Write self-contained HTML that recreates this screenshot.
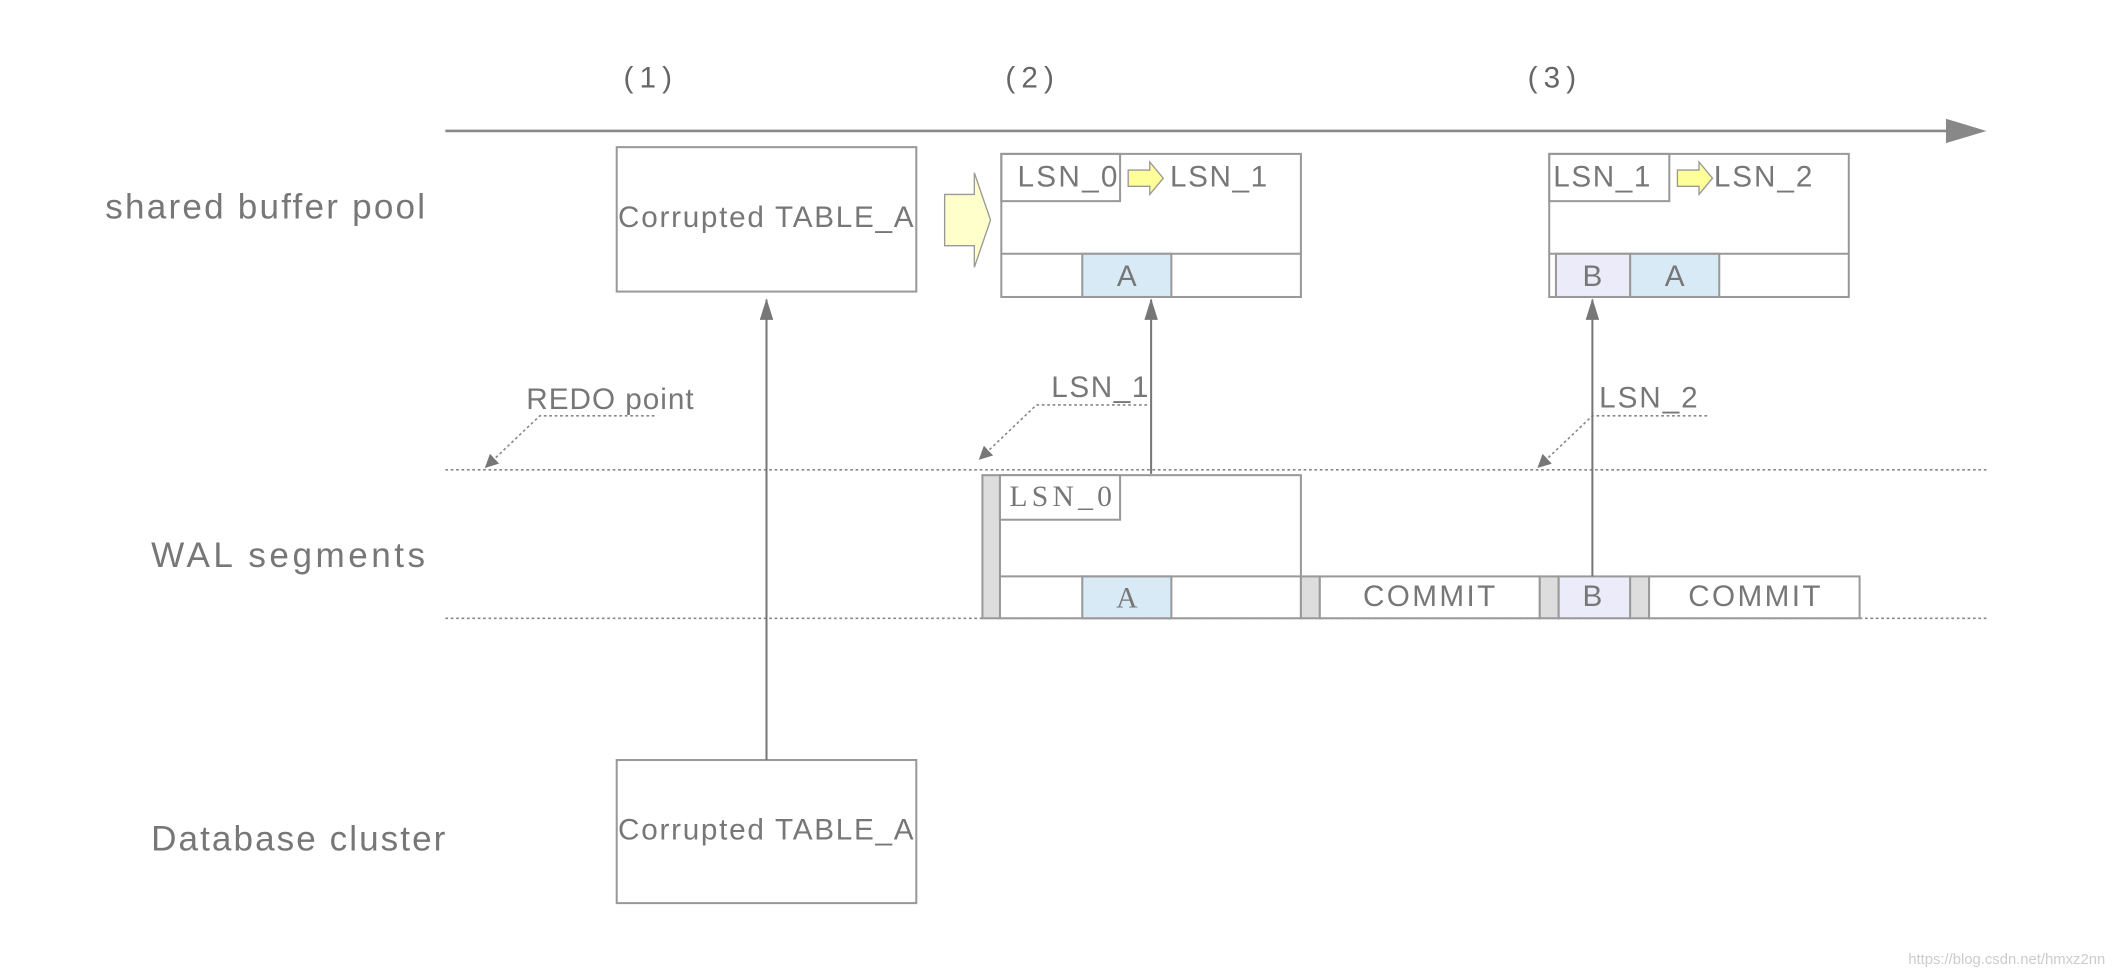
<!DOCTYPE html>
<html><head><meta charset="utf-8"><style>html,body{margin:0;padding:0;background:#fff}svg{display:block}</style></head>
<body>
<svg width="2116" height="976" viewBox="0 0 1568 723" preserveAspectRatio="none" xmlns="http://www.w3.org/2000/svg" font-family="'Liberation Sans', sans-serif" fill="#777">
<defs>
<marker id="ah" markerWidth="16" markerHeight="12" refX="15" refY="5" orient="auto" markerUnits="userSpaceOnUse"><path d="M0,0 L16,5 L0,10 z" fill="#777"/></marker>
<marker id="da" markerWidth="10" markerHeight="10" refX="9" refY="5" orient="auto" markerUnits="userSpaceOnUse"><path d="M0,0 L10,5 L0,10 z" fill="#777"/></marker>
</defs>
<g font-size="22" fill="#666">
<text x="462" y="65" textLength="36" lengthAdjust="spacing">(1)</text><text x="745" y="65" textLength="36" lengthAdjust="spacing">(2)</text><text x="1132" y="65" textLength="36" lengthAdjust="spacing">(3)</text>
</g>
<line x1="330" y1="97" x2="1445" y2="97" stroke="#888" stroke-width="2"/>
<path d="M1442,88 L1472,97 L1442,106 z" fill="#888"/>
<g font-size="26" fill="#777">
<text x="78" y="162" textLength="237" lengthAdjust="spacing">shared buffer pool</text>
<text x="112" y="420" textLength="203" lengthAdjust="spacing">WAL segments</text>
<text x="112" y="630" textLength="218" lengthAdjust="spacing">Database cluster</text>
</g>
<g stroke="#999" stroke-width="1.5" fill="none">
<rect x="457" y="109" width="222" height="107"/>
<rect x="457" y="563" width="222" height="106"/>
</g>
<text x="458" y="168" font-size="22" textLength="219" lengthAdjust="spacing" fill="#777">Corrupted TABLE_A</text>
<text x="458" y="622" font-size="22" textLength="219" lengthAdjust="spacing" fill="#777">Corrupted TABLE_A</text>
<path d="M700,144 L722,144 L722,128 L734,163 L722,198 L722,182 L700,182 z" fill="#ffffcc" stroke="#999"/>
<!-- box 2 -->
<rect x="742" y="114" width="222" height="106" fill="#fff" stroke="#999" stroke-width="1.5"/>
<rect x="742" y="114" width="88" height="35" fill="none" stroke="#999" stroke-width="1.5"/>
<line x1="742" y1="188" x2="964" y2="188" stroke="#999" stroke-width="1.5"/>
<rect x="802" y="188" width="66" height="32" fill="#d7eaf5" stroke="#999" stroke-width="1.5"/>
<path d="M836,126 L852,126 L852,120 L862,132 L852,144 L852,138 L836,138 z" fill="#ffff99" stroke="#999"/>
<g font-size="22" fill="#777">
<text x="754" y="138" textLength="74" lengthAdjust="spacing">LSN_0</text>
<text x="867" y="138" textLength="72" lengthAdjust="spacing">LSN_1</text>
<text x="835" y="212" text-anchor="middle">A</text>
</g>
<!-- box 3 -->
<rect x="1148" y="114" width="222" height="106" fill="#fff" stroke="#999" stroke-width="1.5"/>
<rect x="1148" y="114" width="89" height="35" fill="none" stroke="#999" stroke-width="1.5"/>
<line x1="1148" y1="188" x2="1370" y2="188" stroke="#999" stroke-width="1.5"/>
<rect x="1153" y="188" width="55" height="32" fill="#ebebfa" stroke="#999" stroke-width="1.5"/>
<rect x="1208" y="188" width="66" height="32" fill="#d7eaf5" stroke="#999" stroke-width="1.5"/>
<path d="M1243,126 L1259,126 L1259,120 L1269,132 L1259,144 L1259,138 L1243,138 z" fill="#ffff99" stroke="#999"/>
<g font-size="22" fill="#777">
<text x="1151" y="138" textLength="72" lengthAdjust="spacing">LSN_1</text>
<text x="1270" y="138" textLength="73" lengthAdjust="spacing">LSN_2</text>
<text x="1180" y="212" text-anchor="middle">B</text>
<text x="1241" y="212" text-anchor="middle">A</text>
</g>
<!-- dotted lines -->
<g stroke="#888" stroke-width="1.2" stroke-dasharray="2,2" fill="none">
<line x1="330" y1="348" x2="1472" y2="348"/>
<line x1="330" y1="458" x2="1472" y2="458"/>
<polyline points="485,308 400,308 360,346" marker-end="url(#da)"/>
<polyline points="850,300 768,300 726,340" marker-end="url(#da)"/>
<polyline points="1265,308 1180,308 1140,346" marker-end="url(#da)"/>
</g>
<g font-size="22" fill="#777">
<text x="390" y="303" textLength="124" lengthAdjust="spacing">REDO point</text>
<text x="779" y="294" textLength="72" lengthAdjust="spacing">LSN_1</text>
<text x="1185" y="302" textLength="73" lengthAdjust="spacing">LSN_2</text>
</g>
<!-- WAL -->
<rect x="728" y="352" width="13" height="106" fill="#ddd" stroke="#999" stroke-width="1.5"/>
<rect x="741" y="352" width="223" height="106" fill="#fff" stroke="#999" stroke-width="1.5"/>
<rect x="741" y="352" width="89" height="33" fill="#fff" stroke="#999" stroke-width="1.5"/>
<text x="748" y="375" font-size="22" textLength="76" lengthAdjust="spacing" font-family="'Liberation Serif', serif" fill="#777">LSN_0</text>
<line x1="741" y1="427" x2="964" y2="427" stroke="#999" stroke-width="1.5"/>
<rect x="802" y="427" width="66" height="31" fill="#d7eaf5" stroke="#999" stroke-width="1.5"/>
<text x="835" y="450" font-size="22" text-anchor="middle" font-family="'Liberation Serif', serif" fill="#777">A</text>
<g stroke="#999" stroke-width="1.5">
<rect x="964" y="427" width="14" height="31" fill="#ddd"/>
<rect x="978" y="427" width="163" height="31" fill="#fff"/>
<rect x="1141" y="427" width="14" height="31" fill="#ddd"/>
<rect x="1155" y="427" width="53" height="31" fill="#ebebfa"/>
<rect x="1208" y="427" width="14" height="31" fill="#ddd"/>
<rect x="1222" y="427" width="156" height="31" fill="#fff"/>
</g>
<g font-size="22" fill="#777">
<text x="1010" y="449" textLength="98" lengthAdjust="spacing">COMMIT</text>
<text x="1180" y="449" text-anchor="middle">B</text>
<text x="1251" y="449" textLength="98" lengthAdjust="spacing">COMMIT</text>
</g>
<!-- vertical arrows -->
<g stroke="#777" stroke-width="1.5">
<line x1="568" y1="563" x2="568" y2="222" marker-end="url(#ah)"/>
<line x1="853" y1="351" x2="853" y2="222" marker-end="url(#ah)"/>
<line x1="1180" y1="427" x2="1180" y2="222" marker-end="url(#ah)"/>
</g>
<text x="1560" y="714" font-size="11" fill="#ccc" text-anchor="end">https://blog.csdn.net/hmxz2nn</text>
</svg>
</body></html>
